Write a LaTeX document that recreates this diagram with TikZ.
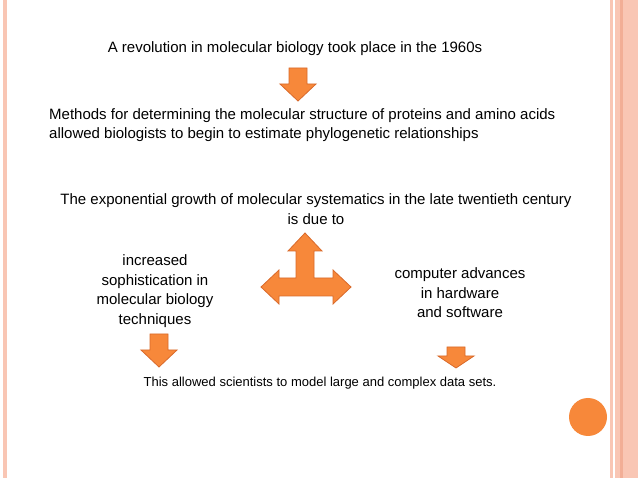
\documentclass[tikz,border=0pt]{standalone}
\usepackage{fontspec}
\setmainfont{Liberation Sans}
\definecolor{aro}{HTML}{F7883A}
\definecolor{arb}{HTML}{D9692A}
\definecolor{pk}{HTML}{F9C6B4}
\definecolor{pkd}{HTML}{F2AE96}
\begin{document}
\begin{tikzpicture}[x=1pt,y=-1pt,
 txt/.style={inner sep=0pt,font=\fontsize{15}{19.5}\selectfont,align=center},
 arr/.style={fill=aro,draw=arb,line width=0.8pt,line join=miter}]
\useasboundingbox (0,0) rectangle (638,478);
\fill[white] (0,0) rectangle (638,478);
\fill[pk] (3,0) rectangle (7,478);
\fill[pk] (610,0) rectangle (638,478);
\fill[white] (612.5,0) rectangle (615,478);
\fill[pkd] (620,0) rectangle (623,478);
\fill[aro] (588,417) circle (19);
\node[txt] (t1) at (295,49) {A revolution in molecular biology took place in the 1960s};
\node[txt,align=left,anchor=west] (t2) at (49,125) {Methods for determining the molecular structure of proteins and amino acids\\allowed biologists to begin to estimate phylogenetic relationships};
\node[txt] (t3) at (316,209) {The exponential growth of molecular systematics in the late twentieth century\\is due to};
\node[txt] (t4) at (155,291) {increased\\sophistication in\\molecular biology\\techniques};
\node[txt] (t5) at (460,293) {computer advances\\in hardware\\and software};
\node[txt,font=\fontsize{13}{16}\selectfont] (t6) at (320,383) {This allowed scientists to model large and complex data sets.};
% down arrows
\draw[arr] (289,68) -- (307,68) -- (307,84) -- (316,84) -- (298,101) -- (280,84) -- (289,84) -- cycle;
\draw[arr] (150,334) -- (168,334) -- (168,350) -- (177,350) -- (159,367) -- (141,350) -- (150,350) -- cycle;
\draw[arr] (447,347) -- (465,347) -- (465,356) -- (474,356) -- (456,368) -- (438,356) -- (447,356) -- cycle;
% three-way arrow
\draw[arr] (305,233) -- (322,251) -- (314,251) -- (314,278) -- (333,278) -- (333,270) -- (351,287) -- (333,304) -- (333,296)
  -- (279,296) -- (279,304) -- (261,287) -- (279,270) -- (279,278) -- (296,278) -- (296,251) -- (288,251) -- cycle;
\end{tikzpicture}
\end{document}
